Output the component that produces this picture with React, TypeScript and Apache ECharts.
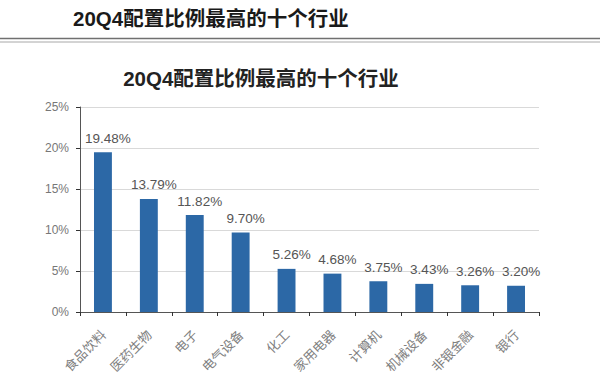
import React, { useEffect, useRef } from "react";
import * as echarts from "echarts";

const categories = ["食品饮料", "医药生物", "电子", "电气设备", "化工", "家用电器", "计算机", "机械设备", "非银金融", "银行"];
const values = [19.48, 13.79, 11.82, 9.7, 5.26, 4.68, 3.75, 3.43, 3.26, 3.2];
const yTicks = [0, 5, 10, 15, 20, 25];
const titleText = "20Q4配置比例最高的十个行业";

export default function App() {
  const ref = useRef<HTMLDivElement>(null);
  useEffect(() => {
    const chart = echarts.init(ref.current!, null, { renderer: "svg" });
    chart.setOption({
      animation: false,
      backgroundColor: "#ffffff",
      title: {
        text: titleText,
        left: 256,
        textAlign: "center",
        top: 63,
        textStyle: { fontSize: 20.5, fontWeight: "bold", color: "#222", fontFamily: "Liberation Sans, Noto Sans CJK SC" },
      },
      graphic: [
        {
          type: "text",
          left: 73,
          top: 8,
          style: { text: titleText, fontSize: 20.5, fontWeight: "bold", fill: "#1a1a1a", fontFamily: "Liberation Sans, Noto Sans CJK SC" },
        },
        { type: "line", shape: { x1: 0, y1: 38.5, x2: 600, y2: 38.5 }, style: { stroke: "#707070", lineWidth: 1.5 } },
        { type: "line", shape: { x1: 0, y1: 42, x2: 600, y2: 42 }, style: { stroke: "#a8a8a8", lineWidth: 1 } },
      ],
      grid: { left: 80, right: 61, top: 107, bottom: 68 },
      xAxis: {
        type: "category",
        data: categories,
        axisLine: { lineStyle: { color: "#555", width: 1 } },
        axisTick: { show: true, alignWithLabel: false, length: 4, inside: false, lineStyle: { color: "#333" } },
        axisLabel: {
          rotate: 45,
          color: "#808080",
          fontSize: 13,
          margin: 20,
          fontFamily: "Noto Sans CJK SC",
        },
      },
      yAxis: {
        type: "value",
        min: 0,
        max: 25,
        interval: 5,
        axisLine: { show: true, lineStyle: { color: "#555", width: 1 } },
        axisTick: { show: true, length: 4, lineStyle: { color: "#333" } },
        splitLine: { show: true, lineStyle: { color: "#d9d9d9", width: 1 } },
        axisLabel: {
          color: "#777",
          fontSize: 12,
          margin: 11,
          fontFamily: "Liberation Sans",
          formatter: (v: number) => (yTicks.includes(v) ? v + "%" : ""),
        },
      },
      series: [
        {
          type: "bar",
          data: values,
          barWidth: "39%",
          itemStyle: { color: "#2c68a6" },
          label: {
            show: true,
            position: "top",
            distance: 7,
            offset: [5, 0],
            color: "#555",
            fontSize: 13.5,
            fontFamily: "Liberation Sans",
            formatter: (p: any) => p.value.toFixed(2) + "%",
          },
        },
      ],
    });
    return () => chart.dispose();
  }, []);
  return <div ref={ref} style={{ width: 600, height: 380, position: "absolute", left: 0, top: 0 }} />;
}
